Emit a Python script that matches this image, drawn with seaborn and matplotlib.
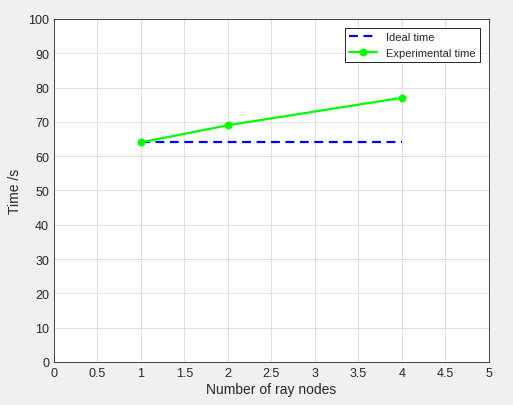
import matplotlib
matplotlib.use("Agg")
import matplotlib.pyplot as plt
import seaborn as sns
import pandas as pd

# data
ideal_nodes = [1, 2, 3, 4]
ideal_time = [64, 64, 64, 64]
exp_nodes = [1, 2, 4]
exp_time = [64, 69, 77]

sns.set_style("whitegrid")
plt.rcParams['font.family'] = ['Liberation Sans', 'DejaVu Sans']

fig = plt.figure(figsize=(5.13, 4.06), dpi=100, facecolor="#f0f0f0")
ax = fig.add_axes([0.105, 0.106, 0.848, 0.845])
ax.set_facecolor("white")

ideal = pd.DataFrame({"x": ideal_nodes, "y": ideal_time})
exp = pd.DataFrame({"x": exp_nodes, "y": exp_time})
sns.lineplot(data=ideal, x="x", y="y", ax=ax, color="#0000ff", linestyle=(0, (4, 2.5)),
             linewidth=1.6, label="Ideal time")
sns.lineplot(data=exp, x="x", y="y", ax=ax, color="#00ff00", linewidth=1.6,
             marker="o", markersize=5, markeredgecolor="#00ff00", label="Experimental time")

ax.set_xlim(0, 5)
ax.set_ylim(0, 100)
ax.set_xticks([i * 0.5 for i in range(11)])
ax.set_xticklabels(["0", "0.5", "1", "1.5", "2", "2.5", "3", "3.5", "4", "4.5", "5"])
ax.set_yticks(range(0, 101, 10))
ax.tick_params(labelsize=9, length=3, direction="in", colors="#262626")
ax.grid(True, color="#dcdcdc", linewidth=0.6)
for s in ax.spines.values():
    s.set_color("#262626")
    s.set_linewidth(0.6)
ax.set_xlabel("Number of ray nodes", fontsize=10, labelpad=2)
ax.set_ylabel("Time /s", fontsize=10, labelpad=4)
leg = ax.legend(loc="upper right", fontsize=8, frameon=True, fancybox=False,
                edgecolor="black", framealpha=1, handlelength=2.5,
                borderaxespad=0.8)
leg.get_frame().set_linewidth(0.6)

fig.savefig("out.png", dpi=100, facecolor=fig.get_facecolor())
